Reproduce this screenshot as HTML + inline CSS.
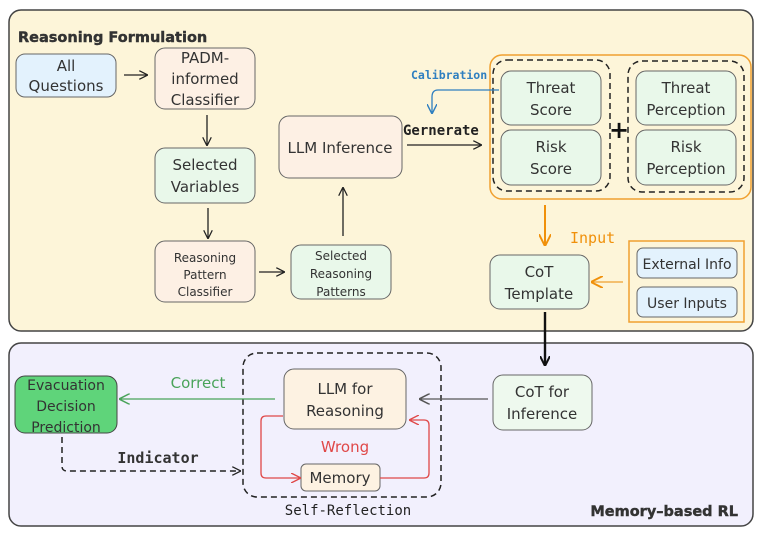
<!DOCTYPE html>
<html><head><meta charset="utf-8"><style>
html,body{margin:0;padding:0;background:#fff}
svg{display:block}
.t{font-family:"DejaVu Sans","Liberation Sans",sans-serif;fill:#333;text-anchor:middle}
.m{font-family:"DejaVu Sans Mono","Liberation Mono",monospace}
</style></head><body>
<svg width="765" height="537" viewBox="0 0 765 537" xmlns="http://www.w3.org/2000/svg">
<defs>
<marker id="a" viewBox="0 0 10 10" refX="9" refY="5" markerWidth="9" markerHeight="9" orient="auto" markerUnits="userSpaceOnUse"><path d="M0,0L10,5L0,10" fill="none" stroke="#222" stroke-width="1.4"/></marker>
<marker id="ab" viewBox="0 0 10 10" refX="9" refY="5" markerWidth="10" markerHeight="10" orient="auto" markerUnits="userSpaceOnUse"><path d="M0,0L10,5L0,10" fill="none" stroke="#111" stroke-width="2"/></marker>
<marker id="ao" viewBox="0 0 10 10" refX="9" refY="5" markerWidth="12" markerHeight="12" orient="auto" markerUnits="userSpaceOnUse"><path d="M0,0L10,5L0,10" fill="none" stroke="#f0900a" stroke-width="1.6"/></marker>
<marker id="abl" viewBox="0 0 10 10" refX="9" refY="5" markerWidth="10" markerHeight="10" orient="auto" markerUnits="userSpaceOnUse"><path d="M0,0L10,5L0,10" fill="none" stroke="#2f7fc0" stroke-width="1.4"/></marker>
<marker id="ag" viewBox="0 0 10 10" refX="9" refY="5" markerWidth="11" markerHeight="11" orient="auto" markerUnits="userSpaceOnUse"><path d="M0,0L10,5L0,10" fill="none" stroke="#4aa35a" stroke-width="1.4"/></marker>
<marker id="agr" viewBox="0 0 10 10" refX="9" refY="5" markerWidth="11" markerHeight="11" orient="auto" markerUnits="userSpaceOnUse"><path d="M0,0L10,5L0,10" fill="none" stroke="#555" stroke-width="1.4"/></marker>
<marker id="ar" viewBox="0 0 10 10" refX="9" refY="5" markerWidth="10" markerHeight="10" orient="auto" markerUnits="userSpaceOnUse"><path d="M0,0L10,5L0,10" fill="none" stroke="#e04848" stroke-width="1.4"/></marker>
</defs>

<rect x="9" y="10" width="744" height="321" rx="12" fill="#fdf5d9" stroke="#444" stroke-width="1.5"/>
<rect x="9" y="343" width="744" height="183" rx="12" fill="#f2f0fd" stroke="#444" stroke-width="1.5"/>
<text x="18" y="42" style="font-family:'DejaVu Sans',sans-serif;font-weight:900;font-size:14.5px;fill:#333;stroke:#333;stroke-width:0.4">Reasoning Formulation</text>
<text x="738" y="516" style="font-family:'DejaVu Sans',sans-serif;font-weight:900;font-size:14.5px;fill:#333;stroke:#333;stroke-width:0.4;text-anchor:end">Memory–based RL</text>

<g stroke="#666" stroke-width="1">
<rect x="16" y="54" width="100" height="43" rx="9" fill="#e3f2fd"/>
<rect x="155" y="48" width="100" height="61" rx="10" fill="#fdf0e4"/>
<rect x="155" y="148" width="100" height="55" rx="10" fill="#e9f8ea"/>
<rect x="155" y="241" width="100" height="61" rx="10" fill="#fdf0e4"/>
<rect x="291" y="245" width="100" height="54" rx="10" fill="#e9f8ea"/>
<rect x="279" y="116" width="123" height="62" rx="10" fill="#fdf0e4"/>
<rect x="501" y="71" width="100" height="54" rx="10" fill="#e9f8ea"/>
<rect x="501" y="130" width="100" height="55" rx="10" fill="#e9f8ea"/>
<rect x="636" y="71" width="100" height="54" rx="10" fill="#e9f8ea"/>
<rect x="636" y="130" width="100" height="55" rx="10" fill="#e9f8ea"/>
<rect x="490" y="255" width="99" height="54" rx="10" fill="#e9f8ea"/>
<rect x="637" y="248" width="100" height="30" rx="6" fill="#e3f2fd"/>
<rect x="637" y="287" width="100" height="30" rx="6" fill="#e3f2fd"/>
<rect x="15" y="376" width="102" height="57" rx="10" fill="#5fd47a" stroke="#444"/>
<rect x="284" y="369" width="122" height="60" rx="10" fill="#fdf2e2"/>
<rect x="301" y="464" width="79" height="27" rx="5" fill="#fdf2e2"/>
<rect x="493" y="375" width="99" height="55" rx="10" fill="#eef9ee"/>
</g>
<rect x="490" y="55" width="261" height="144" rx="12" fill="none" stroke="#f0a030" stroke-width="1.5"/>
<rect x="629" y="241" width="115" height="81" fill="none" stroke="#f0a030" stroke-width="1.5"/>
<g fill="none" stroke="#222" stroke-width="1.5" stroke-dasharray="6,4">
<rect x="493" y="60" width="117" height="131" rx="14"/>
<rect x="628" y="61" width="116" height="131" rx="14"/>
<rect x="243" y="353" width="198" height="144" rx="14"/>
</g>

<g class="t" font-size="15">
<text x="66" y="71">All</text><text x="66" y="91">Questions</text>
<text x="205" y="63">PADM-</text><text x="205" y="84">informed</text><text x="205" y="105">Classifier</text>
<text x="205" y="170">Selected</text><text x="205" y="192">Variables</text>
<text x="340" y="153">LLM Inference</text>
<text x="551" y="93">Threat</text><text x="551" y="115">Score</text>
<text x="551" y="152">Risk</text><text x="551" y="174">Score</text>
<text x="686" y="93">Threat</text><text x="686" y="115">Perception</text>
<text x="686" y="152">Risk</text><text x="686" y="174">Perception</text>
<text x="539" y="277">CoT</text><text x="539" y="299">Template</text>
<text x="687" y="269" font-size="14">External Info</text>
<text x="687" y="308" font-size="14">User Inputs</text>
<text x="66" y="390" font-size="14">Evacuation</text><text x="66" y="411" font-size="14">Decision</text><text x="66" y="432" font-size="14">Prediction</text>
<text x="345" y="394">LLM for</text><text x="345" y="416">Reasoning</text>
<text x="340" y="483">Memory</text>
<text x="542" y="397">CoT  for</text><text x="542" y="419">Inference</text>
</g>
<g class="t" font-size="12">
<text x="205" y="262">Reasoning</text><text x="205" y="279">Pattern</text><text x="205" y="296">Classifier</text>
<text x="341" y="260">Selected</text><text x="341" y="278">Reasoning</text><text x="341" y="296">Patterns</text>
</g>
<text x="619" y="138" style="font-family:'DejaVu Sans',sans-serif;font-weight:bold;font-size:24px;fill:#111;text-anchor:middle">+</text>
<text x="403" y="135" class="m" font-size="14" font-weight="bold" fill="#222">Gernerate</text>
<text x="411" y="79" class="m" font-size="11.5" font-weight="bold" fill="#2f7fc0">Calibration</text>
<text x="570" y="243" class="m" font-size="15" fill="#f0900a">Input</text>
<text x="198" y="388" style="font-family:'DejaVu Sans',sans-serif;font-size:15px;fill:#4aa35a;text-anchor:middle">Correct</text>
<text x="345" y="452" style="font-family:'DejaVu Sans',sans-serif;font-size:15px;fill:#e04848;text-anchor:middle">Wrong</text>
<text x="158" y="463" class="m" font-size="15" font-weight="bold" fill="#333" text-anchor="middle">Indicator</text>
<text x="348" y="515" class="m" font-size="14" fill="#222" text-anchor="middle">Self-Reflection</text>

<g fill="none" stroke-width="1.3">
<path d="M124,75H147" stroke="#222" marker-end="url(#a)"/>
<path d="M207,115V145" stroke="#222" marker-end="url(#a)"/>
<path d="M208,208V238" stroke="#222" marker-end="url(#a)"/>
<path d="M259,272H284" stroke="#222" marker-end="url(#a)"/>
<path d="M343,236V188" stroke="#222" marker-end="url(#a)"/>
<path d="M407,145H481" stroke="#222" marker-end="url(#a)"/>
<path d="M499,90H438Q432,90 432,97V113" stroke="#2f7fc0" marker-end="url(#abl)"/>
<path d="M545,205V245" stroke="#f0900a" stroke-width="2" marker-end="url(#ao)"/>
<path d="M623,282H592" stroke="#f0a030" marker-end="url(#ao)"/>
<path d="M545,312V365" stroke="#111" stroke-width="2.4" marker-end="url(#ab)"/>
<path d="M275,399H120" stroke="#4aa35a" marker-end="url(#ag)"/>
<path d="M488,399H420" stroke="#555" marker-end="url(#agr)"/>
<path d="M283,416H266Q261,416 261,421V473Q261,478 266,478H300" stroke="#e04848" marker-end="url(#ar)"/>
<path d="M380,478H424Q429,478 429,473V425Q429,420 424,420H410" stroke="#e04848" marker-end="url(#ar)"/>
<path d="M62,437V466Q62,471 67,471H240" stroke="#222" stroke-width="1.5" stroke-dasharray="6,4" marker-end="url(#a)"/>
</g>
</svg>
</body></html>
